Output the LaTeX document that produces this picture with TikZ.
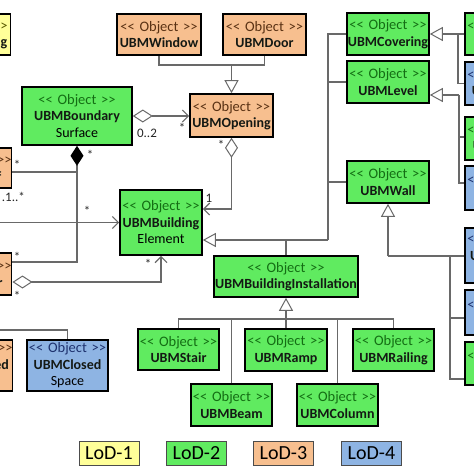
\documentclass[tikz,border=0pt]{standalone}
\usepackage{fontspec}
\setmainfont{Carlito}
\usetikzlibrary{arrows.meta}
\definecolor{gfill}{RGB}{96,235,96}
\definecolor{ofill}{RGB}{247,191,143}
\definecolor{bfill}{RGB}{142,180,227}
\definecolor{yfill}{RGB}{255,255,153}
\definecolor{gtxt}{RGB}{20,110,20}
\definecolor{otxt}{RGB}{90,50,20}
\definecolor{btxt}{RGB}{30,50,110}
\definecolor{ytxt}{RGB}{90,90,0}
\definecolor{ntxt}{RGB}{20,25,20}
\definecolor{cgray}{RGB}{105,105,105}
\newcommand\ob[2]{\textcolor{#1}{\fontsize{14.5}{16.5}\selectfont <{}<\hspace{0.33em}Object\hspace{0.33em}>{}>}\\\bfseries\color{ntxt}#2}
\tikzset{
  obj/.style={draw=black, line width=1.6pt, align=center, inner sep=0pt,
    font=\fontsize{14}{16.5}\selectfont},
  gbox/.style={obj, fill=gfill},
  obox/.style={obj, fill=ofill},
  bbox/.style={obj, fill=bfill},
  ybox/.style={obj, fill=yfill},
  sz/.style 2 args={minimum width=#1, minimum height=#2},
  conn/.style={draw=cgray, line width=1.2pt},
  gen/.style={conn, -{Triangle[length=13pt,width=14pt,fill=white,line width=1pt]}},
  nav/.style={conn, -{Straight Barb[length=6pt,width=12pt,line width=1.2pt]}},
  agg/.style={conn, {Diamond[length=20pt,width=13pt,fill=white,line width=1pt]}-{Straight Barb[length=6pt,width=12pt,line width=1.2pt]}},
  comp/.style={conn, {Diamond[length=20pt,width=13pt,fill=black,color=black]}-},
  lbl/.style={font=\fontsize{13}{15}\selectfont, inner sep=0pt, text=black!85},
  leg/.style={draw=black!70, line width=0.8pt, minimum width=60, minimum height=24,
    inner sep=0pt, font=\fontsize{20}{22}\selectfont}
}
\begin{document}
\begin{tikzpicture}[x=1pt,y=-1pt]
\useasboundingbox (0,0) rectangle (474,474);
\clip (0,0) rectangle (474,474);
\fill[white] (0,0) rectangle (474,474);

% helper coordinates
\coordinate (y95) at (0,95);
\coordinate (y172) at (0,172);
\coordinate (y209) at (0,209);
\coordinate (y240) at (0,240);
\coordinate (y262) at (0,262);
\coordinate (y282) at (0,282);
\coordinate (y318) at (0,318);
\coordinate (y379) at (0,379);

% boxes
\node[ybox, sz={83}{41}] (yel) at (-31,34.5) {\ob{ytxt}{UBMBuilding}};
\node[obox, sz={84}{41}] (window) at (159,34.5) {\ob{otxt}{UBMWindow}};
\node[obox, sz={83}{41}] (door) at (264.5,34.5) {\ob{otxt}{UBMDoor}};
\node[gbox, sz={82}{42}] (covering) at (388,34) {\ob{gtxt}{UBMCovering}};
\node[gbox, sz={82}{42}] (level) at (388,82) {\ob{gtxt}{UBMLevel}};

\node[gbox, sz={82}{42}] (r1) at (506,34) {\ob{gtxt}{UBMFloor}};
\node[bbox, sz={82}{43}] (r2) at (506,83.5) {\ob{btxt}{UBMCeiling}};
\node[gbox, sz={82}{43}] (r3) at (506,138.5) {\ob{gtxt}{UBMStorey}};
\node[bbox, sz={82}{44}] (r4) at (506,188) {\ob{btxt}{UBMZone}};
\node[bbox, sz={82}{55}] (r5) at (506,255.5) {\ob{btxt}{UBMCurtain\\Wall}};
\node[bbox, sz={82}{45}] (r6) at (506,312.5) {\ob{btxt}{UBMShaft}};
\node[gbox, sz={82}{43}] (r7) at (506,363.5) {\ob{gtxt}{UBMSlab}};

\node[gbox, sz={110}{58}] (boundary) at (77,116) {\ob{gtxt}{UBMBoundary\\Surface}};
\node[obox, sz={83}{43}] (opening) at (231.5,115.5) {\ob{otxt}{UBMOpening}};
\node[gbox, sz={82}{65}] (be) at (161,222.5) {\ob{gtxt}{UBMBuilding\\Element}};
\node[gbox, sz={82}{42}] (wall) at (388,182) {\ob{gtxt}{UBMWall}};
\node[gbox, sz={144}{41}] (bi) at (286,276.5) {\ob{gtxt}{UBMBuildingInstallation}};

\node[obox, sz={74}{40}] (ol1) at (-27,168) {\ob{otxt}{UBMRoof}};
\node[obox, sz={74}{42}] (ol2) at (-27,274) {\ob{otxt}{UBMFloor}};
\node[obox, sz={74}{51}] (ol3) at (-26,365.5) {\ob{otxt}{UBMShared\\Space}};
\node[bbox, sz={81}{51}] (closed) at (67.5,365.5) {\ob{btxt}{UBMClosed\\Space}};

\node[gbox, sz={81}{41}] (stair) at (178.5,349.5) {\ob{gtxt}{UBMStair}};
\node[gbox, sz={82}{42}] (ramp) at (286,350) {\ob{gtxt}{UBMRamp}};
\node[gbox, sz={81}{42}] (railing) at (393.5,350) {\ob{gtxt}{UBMRailing}};
\node[gbox, sz={81}{42}] (beam) at (231.5,405) {\ob{gtxt}{UBMBeam}};
\node[gbox, sz={81}{42}] (column) at (337.5,405) {\ob{gtxt}{UBMColumn}};

% legend
\node[leg, fill=yfill] (lod1) at (109,453) {LoD-1};
\node[leg, fill=gfill] (lod2) at (196.5,453) {LoD-2};
\node[leg, fill=ofill] (lod3) at (283.5,453) {LoD-3};
\node[leg, fill=bfill] (lod4) at (371.5,453) {LoD-4};

% window/door -> opening
\coordinate (jop) at (231.5,65);
\draw[gen] (jop) -- (opening.north);
\draw[conn] (window.south) |- (jop);
\draw[conn] (door.south) |- (jop);

% covering children
\coordinate (jcov) at (458,34);
\draw[gen] (jcov) -- (covering.east);
\draw[conn] (r1.west) -- (jcov);
\draw[conn] (r2.west) -| (jcov);

% level children
\coordinate (jlev) at (459,95);
\draw[gen] (jlev) -- (level.east |- y95);
\draw[conn] (r4.west |- 0,183) -| (jlev);
\draw[conn] (r3.west |- 0,137) -- (jlev |- 0,137);

% wall children
\coordinate (jw1) at (388,256);
\coordinate (jw2) at (450,256);
\draw[gen] (jw1) -- (wall.south);
\draw[conn] (jw1) -- (r5.west |- jw1);
\draw[conn] (jw2) |- (r7.west |- y379);
\draw[conn] (jw2 |- y318) -- (r6.west |- y318);

% bus to building element
\coordinate (jbus) at (328,240);
\draw[gen] (jbus) -- (be.east |- y240);
\draw[conn] (covering.west) -| (jbus);
\draw[conn] (level.west) -- (level.west -| jbus);
\draw[conn] (wall.west) -- (wall.west -| jbus);
\draw[conn] (bi.north) -- (bi.north |- jbus);

% building installation children
\coordinate (jbi) at (286,319);
\draw[gen] (jbi) -- (bi.south);
\draw[conn] (stair.north) |- (jbi);
\draw[conn] (railing.north) |- (jbi);
\draw[conn] (ramp.north) -- (jbi);
\draw[conn] (beam.north) -- (beam.north |- jbi);
\draw[conn] (column.north) -- (column.north |- jbi);

% opening -> building element
\draw[agg] (opening.south) |- (be.east |- y209);
% boundary -> opening
\draw[agg] (boundary.east) -- (boundary.east -| opening.west);
% boundary composition
\draw[comp] (boundary.south) |- (ol2.east |- y262);
\draw[conn] (ol1.east |- y172) -- (boundary.south |- y172);
% arrow from left
\coordinate (lft) at (-20,222.5);
\draw[nav] (lft) -- (be.west);
% bottom aggregation
\draw[agg] (ol2.east |- y282) -| (be.south);
% closed space
\coordinate (lcs) at (-20,330);
\draw[conn] (lcs) -| (closed.north);

% labels
\node[lbl] (l02) at (147,133) {0..2};
\node[lbl] (la1) at (182,128) {*};
\node[lbl] (la2) at (221,145) {*};
\node[lbl] (l1) at (209,198) {1};
\node[lbl] (la3) at (90,155) {*};
\node[lbl] (la4) at (17,165) {*};
\node[lbl, anchor=east] (l1s) at (25,197) {.1..*};
\node[lbl] (la5) at (87,211) {*};
\node[lbl] (la6) at (17,257) {*};
\node[lbl] (la7) at (148,264) {*};
\node[lbl] (la8) at (17,296) {*};
\end{tikzpicture}
\end{document}
